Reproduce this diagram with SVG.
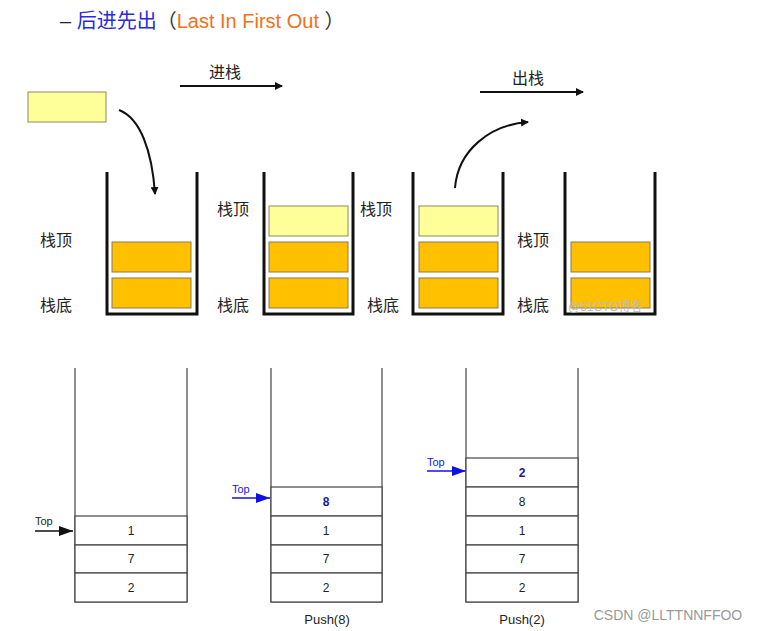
<svg xmlns="http://www.w3.org/2000/svg" width="769" height="631" viewBox="0 0 769 631">
<style>
.cj{font-family:"Liberation Sans","Noto Sans CJK SC",sans-serif;font-size:16px;fill:#222}
.wall{fill:none;stroke:#111;stroke-width:3}
.or{fill:#FFC000;stroke:#8a7a50;stroke-width:1}
.ye{fill:#FFFF99;stroke:#8a8a60;stroke-width:1}
.cell{fill:#fff;stroke:#444;stroke-width:1.2}
.n{font-family:"Liberation Sans",Arial,sans-serif;font-size:12px;fill:#222;text-anchor:middle}
.ln{stroke:#111;stroke-width:2;fill:none}
</style>
<defs>
<marker id="ah" markerWidth="8" markerHeight="8" refX="7" refY="4" orient="auto" markerUnits="userSpaceOnUse"><path d="M0,0L8,4L0,8z" fill="#111"/></marker>
<marker id="tb" markerWidth="14" markerHeight="10" refX="14" refY="5" orient="auto" markerUnits="userSpaceOnUse"><path d="M0,0L14,5L0,10z" fill="#111"/></marker>
<marker id="tbb" markerWidth="14" markerHeight="10" refX="14" refY="5" orient="auto" markerUnits="userSpaceOnUse"><path d="M0,0L14,5L0,10z" fill="#1010e0"/></marker>
</defs>
<rect width="769" height="631" fill="#fff"/>
<text x="60" y="28" font-family="Liberation Sans,Noto Sans CJK SC,sans-serif" font-size="20"><tspan fill="#222">–  </tspan><tspan fill="#2a2ae0">后进先出</tspan><tspan fill="#333">（</tspan><tspan fill="#f07020">Last In First Out</tspan><tspan fill="#333"> ）</tspan></text>

<g id="box-in"><rect class="ye" x="28" y="92" width="78" height="30"/></g>
<g id="stack1">
<path class="wall" d="M107,172V314H197V172"/>
<rect class="or" x="112" y="242" width="79" height="30"/><rect class="or" x="112" y="278" width="79" height="30"/>
<text class="cj" x="40" y="246">栈顶</text><text class="cj" x="40" y="311">栈底</text>
</g>
<g id="stack2">
<path class="wall" d="M264,172V314H353V172"/>
<rect class="ye" x="269" y="206" width="79" height="30"/><rect class="or" x="269" y="242" width="79" height="30"/><rect class="or" x="269" y="278" width="79" height="30"/>
<text class="cj" x="217" y="215">栈顶</text><text class="cj" x="217" y="311">栈底</text>
</g>
<g id="stack3">
<path class="wall" d="M413,172V314H503V172"/>
<rect class="ye" x="419" y="206" width="79" height="30"/><rect class="or" x="419" y="242" width="79" height="30"/><rect class="or" x="419" y="278" width="79" height="30"/>
<text class="cj" x="360" y="215">栈顶</text><text class="cj" x="367" y="311">栈底</text>
</g>
<g id="stack4">
<path class="wall" d="M565,172V314H655V172"/>
<rect class="or" x="571" y="242" width="79" height="30"/><rect class="or" x="571" y="278" width="79" height="30"/>
<text class="cj" x="517" y="246">栈顶</text><text class="cj" x="517" y="311">栈底</text>
<text x="568" y="311" font-family="Liberation Sans,Noto Sans CJK SC,sans-serif" font-size="12" fill="#bbb">@51CTO博客</text>
</g>
<g id="connectors">
<path class="ln" d="M119,110C140,118 152,150 155,194" marker-end="url(#ah)"/>
<path class="ln" d="M455,188C458,150 490,125 528,122" marker-end="url(#ah)"/>
<line class="ln" x1="180" y1="86" x2="282" y2="86" marker-end="url(#ah)"/>
<line class="ln" x1="480" y1="92" x2="583" y2="92" marker-end="url(#ah)"/>
<line x1="35" y1="531" x2="73" y2="531" stroke="#111" stroke-width="1.5" marker-end="url(#tb)"/>
<line x1="232" y1="498" x2="270" y2="498" stroke="#1010e0" stroke-width="1.5" marker-end="url(#tbb)"/>
<line x1="427" y1="471" x2="466" y2="471" stroke="#1010e0" stroke-width="1.5" marker-end="url(#tbb)"/>
</g>
<text class="cj" x="209" y="78">进栈</text>
<text class="cj" x="512" y="84">出栈</text>

<g id="arrA">
<path class="cell" d="M75,368V602H187V368"/>
<rect class="cell" x="75" y="516" width="112" height="29"/><rect class="cell" x="75" y="545" width="112" height="28"/><rect class="cell" x="75" y="573" width="112" height="29"/>
<text class="n" x="131" y="535">1</text><text class="n" x="131" y="563">7</text><text class="n" x="131" y="592">2</text>
<text x="35" y="525" font-family="Liberation Sans,Arial,sans-serif" font-size="11" fill="#222">Top</text>
</g>
<g id="arrB">
<path class="cell" d="M271,368V602H382V368"/>
<rect class="cell" x="271" y="487" width="111" height="29"/><rect class="cell" x="271" y="516" width="111" height="29"/><rect class="cell" x="271" y="545" width="111" height="28"/><rect class="cell" x="271" y="573" width="111" height="29"/>
<text class="n" x="326" y="506" fill="#1a1aa0" font-weight="bold" style="fill:#1a1aa0">8</text><text class="n" x="326" y="535">1</text><text class="n" x="326" y="563">7</text><text class="n" x="326" y="592">2</text>
<text x="232" y="493" font-family="Liberation Sans,Arial,sans-serif" font-size="11" fill="#1a1ad0">Top</text>
<text x="327" y="624" font-family="Liberation Sans,Arial,sans-serif" font-size="13" fill="#222" text-anchor="middle">Push(8)</text>
</g>
<g id="arrC">
<path class="cell" d="M466,368V602H578V368"/>
<rect class="cell" x="466" y="458" width="112" height="29"/><rect class="cell" x="466" y="487" width="112" height="29"/><rect class="cell" x="466" y="516" width="112" height="29"/><rect class="cell" x="466" y="545" width="112" height="28"/><rect class="cell" x="466" y="573" width="112" height="29"/>
<text class="n" x="522" y="477" font-weight="bold" style="fill:#1a1aa0">2</text><text class="n" x="522" y="506">8</text><text class="n" x="522" y="535">1</text><text class="n" x="522" y="563">7</text><text class="n" x="522" y="592">2</text>
<text x="427" y="466" font-family="Liberation Sans,Arial,sans-serif" font-size="11" fill="#1a1ad0">Top</text>
<text x="522" y="624" font-family="Liberation Sans,Arial,sans-serif" font-size="13" fill="#222" text-anchor="middle">Push(2)</text>
</g>
<text x="668" y="620" font-family="Liberation Sans,Noto Sans CJK SC,sans-serif" font-size="14" fill="#999" text-anchor="middle">CSDN @LLTTNNFFOO</text>
</svg>
